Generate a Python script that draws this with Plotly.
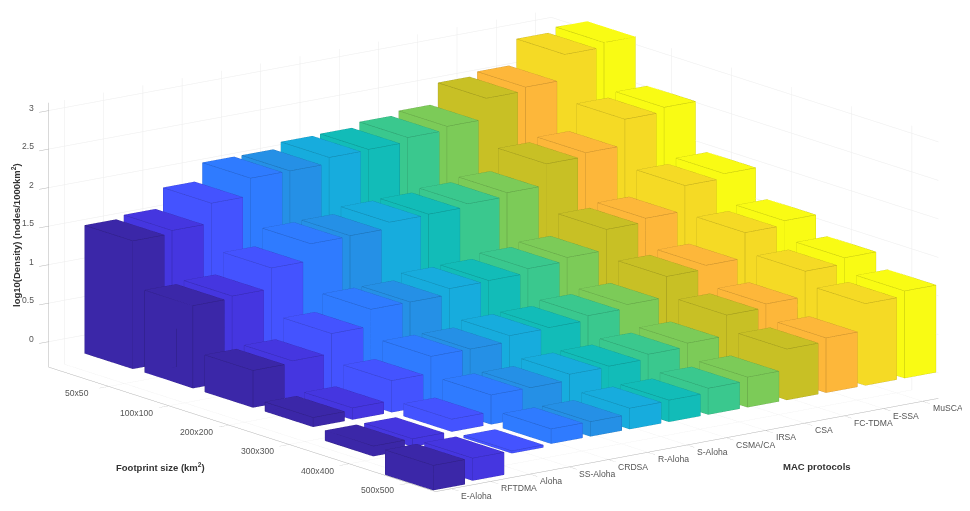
#!/usr/bin/env python3
import plotly.graph_objects as go

# ---------------------------------------------------------------------------
# Data: log10(density) per footprint and protocol
# ---------------------------------------------------------------------------
protocols = ["E-Aloha", "RFTDMA", "Aloha", "SS-Aloha", "CRDSA", "R-Aloha", "S-Aloha",
             "CSMA/CA", "IRSA", "CSA", "FC-TDMA", "E-SSA", "MuSCA"]
footprints = ["50x50", "100x100", "200x200", "300x300", "400x400", "500x500"]
z_ticks = [0, 0.5, 1, 1.5, 2, 2.5, 3]
z_tick_text = ["0", "0.5", "1", "1.5", "2", "2.5", "3"]

density_50 = [1.66, 1.70, 1.96, 2.19, 2.19, 2.27, 2.28, 2.34, 2.39, 2.66, 2.71, 3.04, 3.10]
density_100 = [1.07, 1.10, 1.37, 1.59, 1.60, 1.68, 1.69, 1.73, 1.78, 2.06, 2.11, 2.45, 2.51]
density_200 = [0.48, 0.51, 0.77, 0.99, 0.99, 1.07, 1.08, 1.14, 1.19, 1.46, 1.51, 1.84, 1.90]
density_300 = [0.12, 0.15, 0.41, 0.63, 0.63, 0.71, 0.72, 0.78, 0.83, 1.10, 1.15, 1.48, 1.54]
density_400 = [-0.13, -0.10, 0.16, 0.38, 0.38, 0.46, 0.47, 0.53, 0.58, 0.85, 0.90, 1.23, 1.31]
density_500 = [-0.32, -0.29, -0.03, 0.19, 0.19, 0.27, 0.28, 0.34, 0.39, 0.66, 0.71, 1.06, 1.13]
density = [density_50, density_100, density_200, density_300, density_400, density_500]

bar_colors = ["#3B27A8", "#4536E0", "#4453FF", "#2F7BFF", "#2590E6", "#17ACDD", "#12BCB8",
              "#3AC88E", "#7CCB58", "#C8C025", "#FDB73A", "#F5DA25", "#F9FB14"]

BAR_HALF = 0.4
X_RANGE = [0, 6.44]
Y_RANGE = [0.6, 13.4]
Z_RANGE = [-0.33, 3.1]
TEXT_COLOR = "#555555"
FONT = "Liberation Sans"
# the page body has an 8px margin, so the figure is kept 16px smaller than the window
FIG_W = 954
FIG_H = 495


def darken(hex_code, k=0.75):
    hex_code = hex_code.lstrip("#")
    r, g, b = [int(hex_code[i:i+2], 16) for i in (0, 2, 4)]
    return f"rgb({int(r*k)}, {int(g*k)}, {int(b*k)})"


# ---------------------------------------------------------------------------
# One mesh and one edge trace per protocol column
# ---------------------------------------------------------------------------
def add_column(fig, j):
    xs, ys, zs, ii, jj, kk = [], [], [], [], [], []
    ex, ey, ez = [], [], []
    y0, y1 = j + 1 - BAR_HALF, j + 1 + BAR_HALF
    for i, row in enumerate(density):
        x0, x1 = i + 1 - BAR_HALF, i + 1 + BAR_HALF
        z0, z1 = min(0, row[j]), max(0, row[j])
        n = len(xs)
        xs += [x0, x1, x1, x0, x0, x1, x1, x0]
        ys += [y0, y0, y1, y1, y0, y0, y1, y1]
        zs += [z0, z0, z0, z0, z1, z1, z1, z1]
        for a, b, c in [(0, 1, 2), (0, 2, 3), (4, 5, 6), (4, 6, 7), (0, 1, 5), (0, 5, 4),
                        (1, 2, 6), (1, 6, 5), (2, 3, 7), (2, 7, 6), (3, 0, 4), (3, 4, 7)]:
            ii.append(n + a)
            jj.append(n + b)
            kk.append(n + c)
        for a, b in [(0, 1), (1, 2), (2, 3), (3, 0), (4, 5), (5, 6), (6, 7), (7, 4),
                     (0, 4), (1, 5), (2, 6), (3, 7)]:
            ex += [xs[n + a], xs[n + b], None]
            ey += [ys[n + a], ys[n + b], None]
            ez += [zs[n + a], zs[n + b], None]

    fig.add_trace(go.Mesh3d(
        x=xs, y=ys, z=zs, i=ii, j=jj, k=kk,
        color=bar_colors[j],
        flatshading=True,
        lighting=dict(ambient=1, diffuse=0, specular=0, fresnel=0),
        hoverinfo="skip",
        showlegend=False,
    ))
    fig.add_trace(go.Scatter3d(
        x=ex, y=ey, z=ez,
        mode="lines",
        line=dict(color=darken(bar_colors[j]), width=1),
        hoverinfo="skip",
        showlegend=False,
    ))


fig = go.Figure()
for j in range(len(protocols)):
    add_column(fig, j)

# ---------------------------------------------------------------------------
# Tick labels are anchored in data space so they follow the axes
# ---------------------------------------------------------------------------
tick_font = dict(size=8.6, color=TEXT_COLOR, family=FONT)
title_font = dict(size=9.5, color="#333333", family=FONT)

labels = []
for i, name in enumerate(footprints):
    labels.append(dict(x=i + 1, y=Y_RANGE[0], z=Z_RANGE[0], text=name, showarrow=False,
                       xanchor="center", yanchor="middle", xshift=-32, yshift=-7,
                       font=tick_font))
for j, name in enumerate(protocols):
    labels.append(dict(x=X_RANGE[1], y=j + 1, z=Z_RANGE[0], text=name, showarrow=False,
                       xanchor="left", yanchor="middle", xshift=8, yshift=-7,
                       font=tick_font))
for val, name in zip(z_ticks, z_tick_text):
    labels.append(dict(x=X_RANGE[0], y=Y_RANGE[0], z=val, text=name, showarrow=False,
                       xanchor="right", yanchor="middle", xshift=-13, yshift=3,
                       font=tick_font))

axis_style = dict(
    showgrid=True,
    gridcolor="#ececec",
    gridwidth=1,
    showline=True,
    linecolor="#b4b4b4",
    linewidth=1,
    showbackground=False,
    zeroline=False,
    showticklabels=False,
    ticks="outside",
    ticklen=12,
    tickwidth=1,
    tickcolor="#b4b4b4",
    title=dict(text=""),
    showspikes=False,
)


def paper_x(px):
    return (px - 8) / FIG_W


def paper_y(py):
    return 1 - (py - 8) / FIG_H


fig.update_layout(
    width=FIG_W,
    height=FIG_H,
    margin=dict(l=0, r=0, t=0, b=0),
    paper_bgcolor="white",
    font=dict(family=FONT),
    showlegend=False,
    scene=dict(
        domain=dict(x=[0.0178, 1], y=[0, 1]),
        xaxis=dict(range=X_RANGE, tickvals=list(range(1, 7)), **axis_style),
        yaxis=dict(range=Y_RANGE, tickvals=list(range(1, 14)), **axis_style),
        zaxis=dict(range=Z_RANGE, tickvals=z_ticks, **axis_style),
        aspectmode="manual",
        aspectratio=dict(x=2.586, y=2.55, z=1.101),
        camera=dict(
            eye=dict(x=1.467, y=-1.114, z=0.4437),
            up=dict(x=0, y=0, z=1),
            center=dict(x=0, y=0, z=-0.0203),
            projection=dict(type="orthographic"),
        ),
        annotations=labels,
    ),
    annotations=[
        dict(x=paper_x(160), y=paper_y(467), xref="paper", yref="paper", showarrow=False,
             xanchor="center", yanchor="middle",
             text="<b>Footprint size (km<sup>2</sup>)</b>", font=title_font),
        dict(x=paper_x(817), y=paper_y(466), xref="paper", yref="paper", showarrow=False,
             xanchor="center", yanchor="middle",
             text="<b>MAC protocols</b>", font=title_font),
        dict(x=paper_x(16), y=paper_y(235), xref="paper", yref="paper", showarrow=False,
             xanchor="center", yanchor="middle", textangle=-90,
             text="<b>log10(Density) (nodes/1000km<sup>2</sup>)</b>", font=title_font),
    ],
)

fig.write_html("out.html")
